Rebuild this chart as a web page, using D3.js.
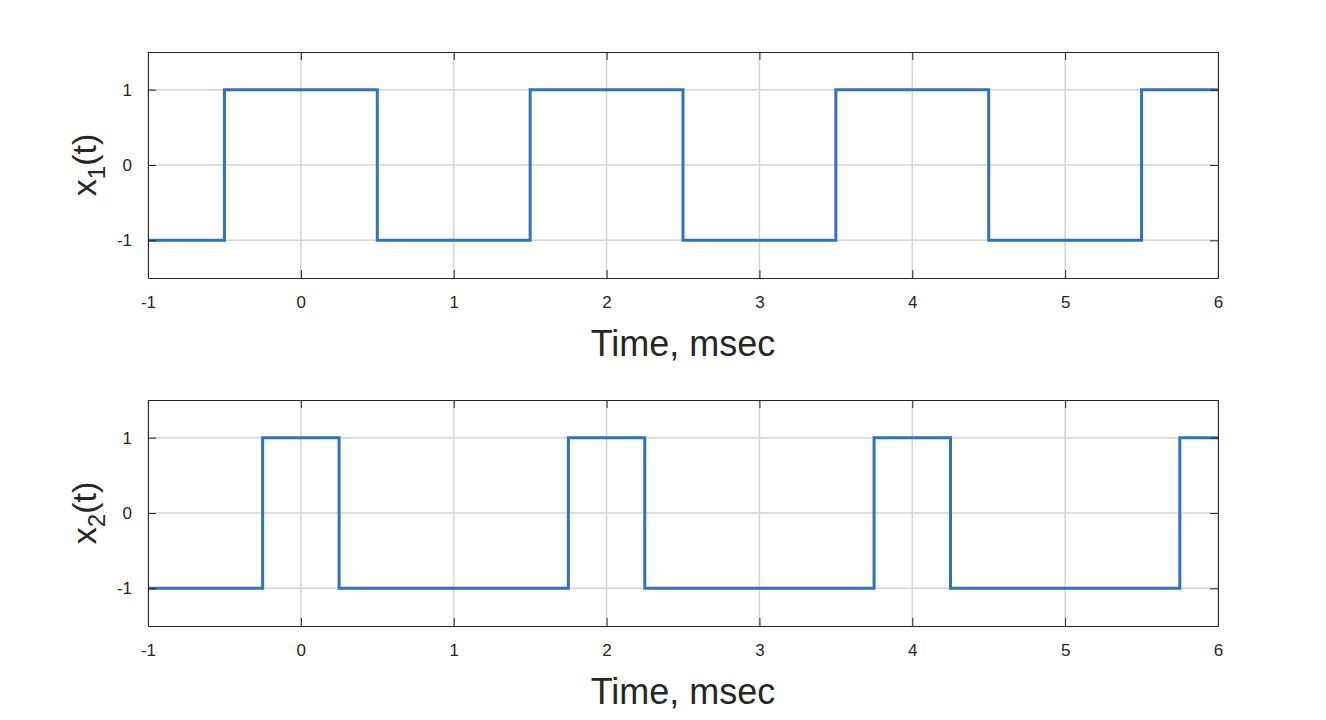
<!DOCTYPE html><html><head><meta charset="utf-8">
<script src="https://cdn.jsdelivr.net/npm/d3@7"></script>
<style>body{margin:0;background:#fff}</style></head><body>
<svg id="c" width="1326" height="720"></svg>
<script>
const xTicks=[-1,0,1,2,3,4,5,6];
const yTicks=[-1,0,1];
const x1Times=[-1,-0.5,0.5,1.5,2.5,3.5,4.5,5.5,6];
const x1Vals=[-1,1,-1,1,-1,1,-1,1,1];
const x2Times=[-1,-0.25,0.25,1.75,2.25,3.75,4.25,5.75,6];
const x2Vals=[-1,1,-1,1,-1,1,-1,1,1];
const svg=d3.select("#c");
const x=d3.scaleLinear().domain([-1,6]).range([148,1218]);
const fmt=d=>String(d).replace("\u2212","-");
function panel(top,times,vals,sub){
  const y=d3.scaleLinear().domain([-1.5,1.5]).range([top+226,top]);
  const g=svg.append("g");
  g.append("g").selectAll("line").data(xTicks).join("line").attr("x1",d=>x(d)).attr("x2",d=>x(d)).attr("y1",top).attr("y2",top+226).attr("stroke","#d4d4d4").attr("stroke-width",1.5);
  g.append("g").selectAll("line").data(yTicks).join("line").attr("y1",d=>y(d)).attr("y2",d=>y(d)).attr("x1",148).attr("x2",1218).attr("stroke","#d4d4d4").attr("stroke-width",1.5);
  const line=d3.line().x(d=>x(d[0])).y(d=>y(d[1])).curve(d3.curveStepAfter);
  g.append("path").datum(times.map((t,i)=>[t,vals[i]])).attr("d",line).attr("fill","none").attr("stroke","#2f72bd").attr("stroke-width",3);
  const ax=(gen,tr)=>g.append("g").attr("transform",tr).call(gen).attr("font-size",null).attr("font-family",null).call(s=>{s.select(".domain").attr("stroke","#262626");s.selectAll(".tick line").attr("stroke","#262626");s.selectAll("text").attr("fill","#262626").attr("font-size","17px").attr("font-family","Arial, 'Liberation Sans'");});
  ax(d3.axisBottom(x).tickValues(xTicks).tickSize(-8).tickPadding(18).tickSizeOuter(0).tickFormat(fmt),`translate(0,${top+226})`);
  ax(d3.axisTop(x).tickValues(xTicks).tickSize(-8).tickSizeOuter(0).tickFormat(""),`translate(0,${top})`);
  ax(d3.axisLeft(y).tickValues(yTicks).tickSize(-8).tickPadding(16).tickSizeOuter(0).tickFormat(fmt),`translate(148,0)`);
  ax(d3.axisRight(y).tickValues(yTicks).tickSize(-8).tickSizeOuter(0).tickFormat(""),`translate(1218,0)`);
  g.append("text").attr("x",683).attr("y",top+304).attr("text-anchor","middle").attr("fill","#262626").attr("font-size","36px").attr("font-family","Arial, 'Liberation Sans'").text("Time, msec");
  const t=g.append("text").attr("transform",`translate(96,${top+113}) rotate(-90)`).attr("text-anchor","middle").attr("fill","#262626").attr("font-size","34px").attr("font-family","Arial, 'Liberation Sans'");
  t.append("tspan").text("x");
  t.append("tspan").attr("dy",9).attr("font-size","24px").text(sub);
  t.append("tspan").attr("dy",-9).text("(t)");
}
panel(52,x1Times,x1Vals,"1");
panel(400,x2Times,x2Vals,"2");
</script></body></html>
